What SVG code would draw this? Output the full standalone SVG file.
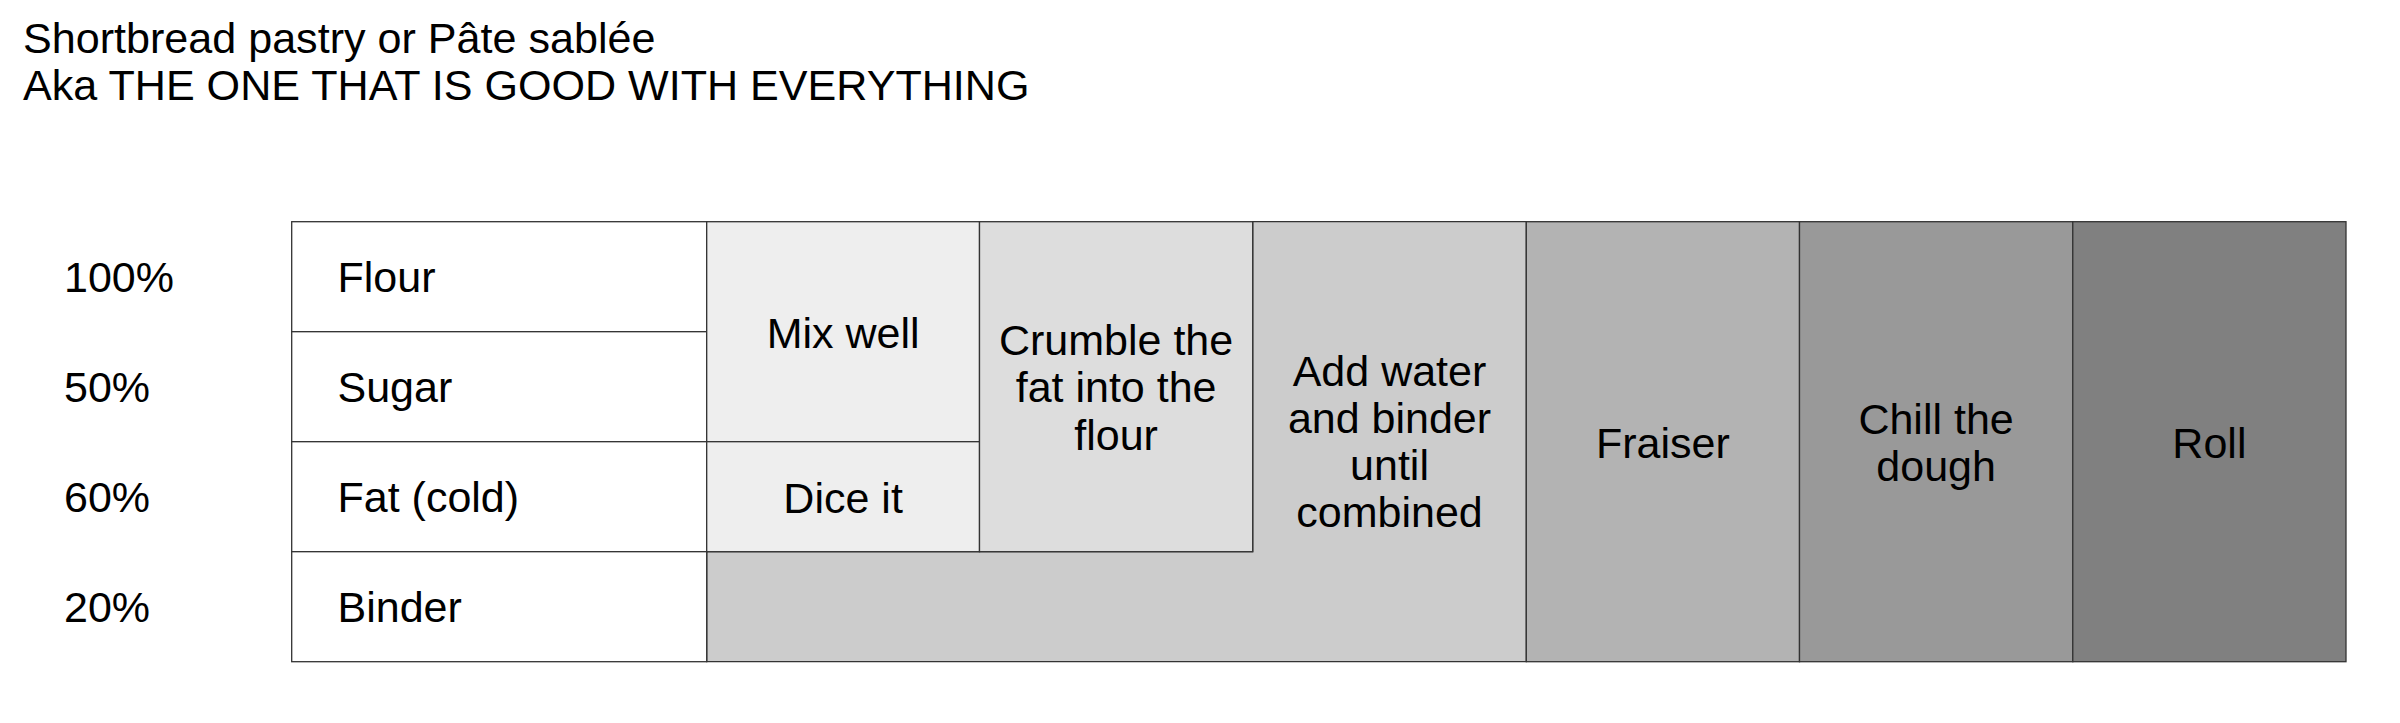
<svg xmlns="http://www.w3.org/2000/svg" width="2400" height="723" viewBox="0 0 2400 723">
  <style>
    text { font-family: "Liberation Sans", Arial, sans-serif; font-size: 43px; fill: #000; }
    .t { font-size: 43.1px; }
    .c { text-anchor: middle; }
    .cell { stroke: #333; stroke-width: 1.3; }
    .white { fill: #ffffff; }
    .g1 { fill: #eeeeee; }
    .g2 { fill: #dddddd; }
    .g3 { fill: #cccccc; }
    .g4 { fill: #b3b3b3; }
    .g5 { fill: #999999; }
    .g6 { fill: #808080; }
  </style>
  <rect width="2400" height="723" fill="#ffffff"/>
  <g id="title">
    <text class="t" x="23" y="52.5">Shortbread pastry or Pâte sablée</text>
    <text class="t" x="23" y="99.5">Aka THE ONE THAT IS GOOD WITH EVERYTHING</text>
  </g>
  <g id="percentages">
    <text x="64" y="292.2">100%</text>
    <text x="64" y="402.2">50%</text>
    <text x="64" y="512.2">60%</text>
    <text x="64" y="622.2">20%</text>
  </g>
  <g id="connectors"></g>
  <g id="add-water">
    <polygon class="cell g3" points="1252.7,221.7 1526.3,221.7 1526.3,661.7 706.7,661.7 706.7,551.7 1252.7,551.7"/>
    <text class="c" x="1389.5" y="386">Add water</text>
    <text class="c" x="1389.5" y="433">and binder</text>
    <text class="c" x="1389.5" y="480">until</text>
    <text class="c" x="1389.5" y="527">combined</text>
  </g>
  <g id="flour">
    <rect class="cell white" x="291.7" y="221.7" width="415" height="110"/>
    <text x="337.5" y="292.2">Flour</text>
  </g>
  <g id="sugar">
    <rect class="cell white" x="291.7" y="331.7" width="415" height="110"/>
    <text x="337.5" y="402.2">Sugar</text>
  </g>
  <g id="fat">
    <rect class="cell white" x="291.7" y="441.7" width="415" height="110"/>
    <text x="337.5" y="512.2">Fat (cold)</text>
  </g>
  <g id="binder">
    <rect class="cell white" x="291.7" y="551.7" width="415" height="110"/>
    <text x="337.5" y="622.2">Binder</text>
  </g>
  <g id="mix-well">
    <rect class="cell g1" x="706.7" y="221.7" width="272.8" height="220"/>
    <text class="c" x="843.1" y="347.5">Mix well</text>
  </g>
  <g id="dice-it">
    <rect class="cell g1" x="706.7" y="441.7" width="272.8" height="110"/>
    <text class="c" x="843.1" y="512.5">Dice it</text>
  </g>
  <g id="crumble">
    <rect class="cell g2" x="979.5" y="221.7" width="273.2" height="330"/>
    <text class="c" x="1116.1" y="354.5">Crumble the</text>
    <text class="c" x="1116.1" y="402">fat into the</text>
    <text class="c" x="1116.1" y="449.5">flour</text>
  </g>
  <g id="fraiser">
    <rect class="cell g4" x="1526.3" y="221.7" width="273.2" height="440"/>
    <text class="c" x="1662.9" y="457.5">Fraiser</text>
  </g>
  <g id="chill">
    <rect class="cell g5" x="1799.5" y="221.7" width="273.3" height="440"/>
    <text class="c" x="1936.1" y="434">Chill the</text>
    <text class="c" x="1936.1" y="481">dough</text>
  </g>
  <g id="roll">
    <rect class="cell g6" x="2072.8" y="221.7" width="273.2" height="440"/>
    <text class="c" x="2209.4" y="457.5">Roll</text>
  </g>
</svg>
